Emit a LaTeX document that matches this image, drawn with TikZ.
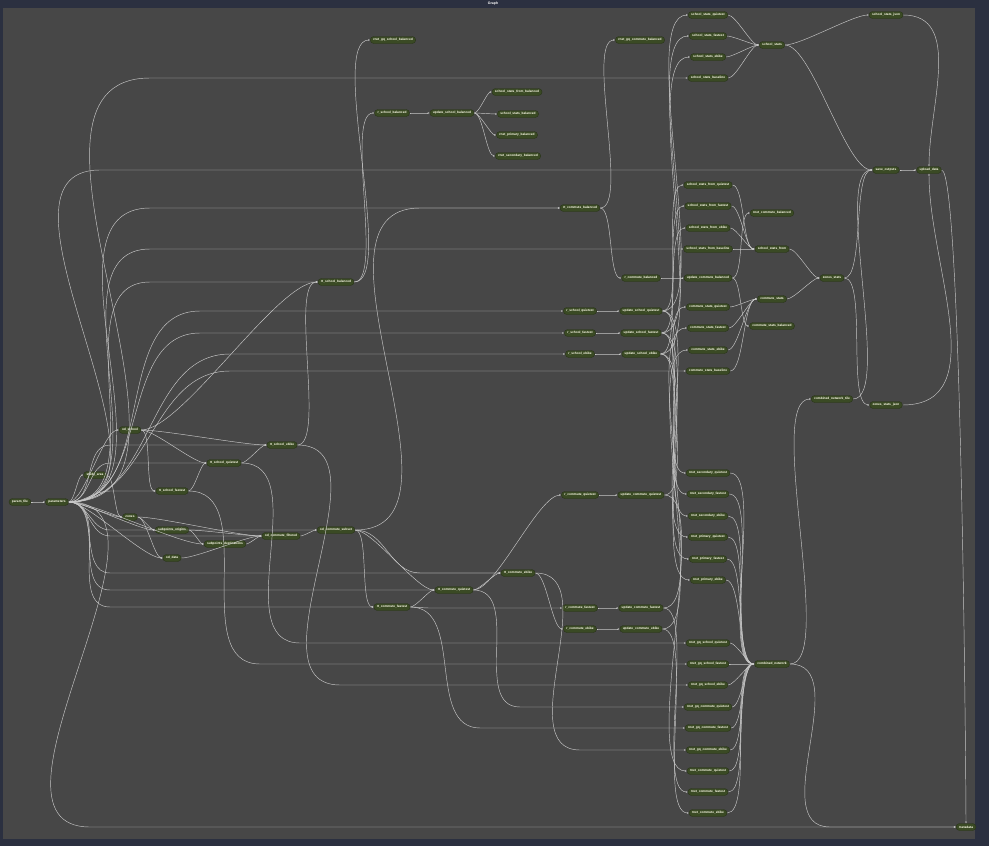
\documentclass[tikz,border=0pt]{standalone}
\usepackage{fontspec}
\setmainfont{Liberation Sans}
\usetikzlibrary{arrows.meta}
\definecolor{bg}{HTML}{474747}
\definecolor{frame}{HTML}{2B3040}
\definecolor{nd}{HTML}{3A4A24}
\definecolor{ed}{HTML}{C8C8C8}
\begin{document}
\begin{tikzpicture}[x=1pt,y=-1pt,
  nn/.style={fill=nd,draw=nd!70!black,line width=0.4pt,rounded corners=3.5pt,inner xsep=3pt,inner ysep=1.6pt,text=white!92!yellow,font=\fontsize{3.2}{3.6}\selectfont\bfseries,minimum height=7pt},
  ee/.style={draw=ed,line width=0.45pt,-{Stealth[length=2pt,width=1.6pt]}}]
\useasboundingbox (0,0) rectangle (989,846);
\fill[frame] (0,0) rectangle (989,846);
\fill[bg] (3,8) rectangle (975,839);
\node[text=white,font=\fontsize{3.5}{4}\selectfont\bfseries] (title) at (493,4) {Graph};
\def\N#1#2#3{\node[nn] (#1) at (#2,#3) {\detokenize{#1}};}
\N{param_file}{20}{502}
\N{parameters}{57}{502}
\N{od_school}{130}{430}
\N{study_area}{95}{475}
\N{zones}{130}{517}
\N{rt_school_fastest}{172}{491}
\N{rt_school_quietest}{224}{463}
\N{rt_school_ebike}{282}{445}
\N{subpoints_origins}{172}{530}
\N{subpoints_destinations}{225}{544}
\N{od_data}{172}{558}
\N{od_commute_filtered}{281}{536}
\N{od_commute_subset}{336}{530}
\N{rt_school_balanced}{336}{282}
\N{rnet_gq_school_balanced}{393}{40}
\N{r_school_balanced}{392}{113}
\N{update_school_balanced}{452}{113}
\N{school_stats_from_balanced}{517}{92}
\N{school_stats_balanced}{518}{114}
\N{rnet_primary_balanced}{517}{135}
\N{rnet_secondary_balanced}{518}{156}
\N{rt_commute_balanced}{580}{208}
\N{rnet_gq_commute_balanced}{640}{40}
\N{r_commute_balanced}{641}{278}
\N{update_commute_balanced}{708}{278}
\N{r_school_quietest}{580}{311}
\N{update_school_quietest}{641}{311}
\N{r_school_fastest}{580}{333}
\N{update_school_fastest}{641}{333}
\N{r_school_ebike}{580}{354}
\N{update_school_ebike}{641}{354}
\N{school_stats_quietest}{708}{15}
\N{school_stats_fastest}{708}{36}
\N{school_stats_ebike}{708}{57}
\N{school_stats_baseline}{708}{78}
\N{school_stats}{772}{45}
\N{school_stats_json}{886}{15}
\N{save_outputs}{886}{170}
\N{upload_data}{929}{170}
\N{school_stats_from_quietest}{708}{185}
\N{school_stats_from_fastest}{708}{206}
\N{school_stats_from_ebike}{708}{228}
\N{school_stats_from_baseline}{708}{249}
\N{rnet_commute_balanced}{772}{213}
\N{school_stats_from}{772}{249}
\N{zones_stats}{832}{278}
\N{commute_stats}{772}{299}
\N{commute_stats_quietest}{708}{307}
\N{commute_stats_fastest}{708}{328}
\N{commute_stats_ebike}{708}{350}
\N{commute_stats_baseline}{708}{371}
\N{commute_stats_balanced}{772}{326}
\N{combined_network_tile}{832}{399}
\N{zones_stats_json}{886}{405}
\N{rt_commute_ebike}{518}{573}
\N{rt_commute_quietest}{454}{590}
\N{rt_commute_fastest}{392}{607}
\N{r_commute_quietest}{580}{495}
\N{update_commute_quietest}{641}{495}
\N{r_commute_fastest}{580}{608}
\N{update_commute_fastest}{641}{608}
\N{r_commute_ebike}{580}{629}
\N{update_commute_ebike}{641}{629}
\N{rnet_secondary_quietest}{708}{473}
\N{rnet_secondary_fastest}{708}{494}
\N{rnet_secondary_ebike}{708}{516}
\N{rnet_primary_quietest}{708}{537}
\N{rnet_primary_fastest}{708}{559}
\N{rnet_primary_ebike}{708}{580}
\N{rnet_gq_school_quietest}{708}{643}
\N{rnet_gq_school_fastest}{708}{664}
\N{rnet_gq_school_ebike}{708}{685}
\N{rnet_gq_commute_quietest}{708}{707}
\N{rnet_gq_commute_fastest}{708}{728}
\N{rnet_gq_commute_ebike}{708}{750}
\N{rnet_commute_quietest}{708}{771}
\N{rnet_commute_fastest}{708}{792}
\N{rnet_commute_ebike}{708}{813}
\N{combined_network}{772}{664}
\N{metadata}{966}{827}
\def\E#1#2{\draw[ee] (#1.east) to[out=0,in=180,looseness=0.45] (#2.west);}
\def\L#1#2#3{\draw[ee] (#1.east) to[out=0,in=180] (#2.west -| #3,0) -- (#2.west);}
\foreach \b/\x in {rt_school_balanced/150,rt_commute_balanced/150,r_school_quietest/200,r_school_fastest/200,
 r_school_ebike/230,school_stats_baseline/150,school_stats_from_baseline/150,commute_stats_baseline/230,
 save_outputs/100,metadata/90,rt_commute_ebike/110,rt_commute_quietest/110,rt_commute_fastest/110,
 od_commute_subset/110,rt_school_ebike/110,rt_school_quietest/110,rt_school_fastest/110,od_commute_filtered/110}
 {\L{parameters}{\b}{\x}}
\foreach \a/\b/\x in {rt_school_quietest/rnet_gq_school_quietest/300,rt_school_fastest/rnet_gq_school_fastest/260,
 rt_school_ebike/rnet_gq_school_ebike/340,rt_commute_quietest/rnet_gq_commute_quietest/520,
 rt_commute_fastest/rnet_gq_commute_fastest/480,rt_commute_ebike/rnet_gq_commute_ebike/580,
 od_commute_subset/rt_commute_balanced/420,od_commute_subset/rt_commute_ebike/420,rt_commute_fastest/r_commute_fastest/430,
 combined_network/metadata/830}
 {\L{\a}{\b}{\x}}
\foreach \a/\b in {param_file/parameters,parameters/od_school,parameters/study_area,parameters/zones,
 parameters/subpoints_origins,parameters/subpoints_destinations,parameters/od_data,
 study_area/zones,od_school/rt_school_fastest,od_school/rt_school_quietest,od_school/rt_school_ebike,od_school/rt_school_balanced,
 zones/subpoints_origins,zones/od_data,zones/od_commute_filtered,subpoints_origins/subpoints_destinations,
 subpoints_origins/od_commute_filtered,subpoints_destinations/od_commute_filtered,od_data/od_commute_filtered,
 od_commute_filtered/od_commute_subset,
 od_commute_subset/rt_commute_fastest,od_commute_subset/rt_commute_quietest,
 rt_school_fastest/rt_school_quietest,rt_school_quietest/rt_school_ebike,rt_school_ebike/rt_school_balanced,
 rt_school_balanced/r_school_balanced,rt_school_balanced/rnet_gq_school_balanced,
 r_school_balanced/update_school_balanced,update_school_balanced/school_stats_from_balanced,update_school_balanced/school_stats_balanced,
 update_school_balanced/rnet_primary_balanced,update_school_balanced/rnet_secondary_balanced,
 rt_commute_fastest/rt_commute_quietest,rt_commute_quietest/rt_commute_ebike,rt_commute_balanced/r_commute_balanced,
 rt_commute_balanced/rnet_gq_commute_balanced,
 rt_commute_quietest/r_commute_quietest,rt_commute_ebike/r_commute_ebike,
 r_school_quietest/update_school_quietest,r_school_fastest/update_school_fastest,r_school_ebike/update_school_ebike,
 r_commute_quietest/update_commute_quietest,r_commute_fastest/update_commute_fastest,r_commute_ebike/update_commute_ebike,
 r_commute_balanced/update_commute_balanced,update_commute_balanced/commute_stats_balanced,update_commute_balanced/rnet_commute_balanced,
 update_school_quietest/school_stats_quietest,update_school_fastest/school_stats_fastest,update_school_ebike/school_stats_ebike,
 update_school_quietest/school_stats_from_quietest,update_school_fastest/school_stats_from_fastest,update_school_ebike/school_stats_from_ebike,
 update_school_quietest/rnet_secondary_quietest,update_school_fastest/rnet_secondary_fastest,update_school_ebike/rnet_secondary_ebike,
 update_school_quietest/rnet_primary_quietest,update_school_fastest/rnet_primary_fastest,update_school_ebike/rnet_primary_ebike,
 update_commute_quietest/commute_stats_quietest,update_commute_fastest/commute_stats_fastest,update_commute_ebike/commute_stats_ebike,
 update_commute_quietest/rnet_commute_quietest,update_commute_fastest/rnet_commute_fastest,update_commute_ebike/rnet_commute_ebike,
 school_stats_quietest/school_stats,school_stats_fastest/school_stats,school_stats_ebike/school_stats,school_stats_baseline/school_stats,
 school_stats/school_stats_json,school_stats/save_outputs,
 school_stats_from_quietest/school_stats_from,school_stats_from_fastest/school_stats_from,school_stats_from_ebike/school_stats_from,
 school_stats_from_baseline/school_stats_from,school_stats_from/zones_stats,
 commute_stats_quietest/commute_stats,commute_stats_fastest/commute_stats,commute_stats_ebike/commute_stats,commute_stats_baseline/commute_stats,
 commute_stats/zones_stats,zones_stats/save_outputs,zones_stats/zones_stats_json,
 rnet_secondary_quietest/combined_network,rnet_secondary_fastest/combined_network,rnet_secondary_ebike/combined_network,
 rnet_primary_quietest/combined_network,rnet_primary_fastest/combined_network,rnet_primary_ebike/combined_network,
 rnet_gq_school_quietest/combined_network,rnet_gq_school_fastest/combined_network,rnet_gq_school_ebike/combined_network,
 rnet_gq_commute_quietest/combined_network,rnet_gq_commute_fastest/combined_network,rnet_gq_commute_ebike/combined_network,
 rnet_commute_quietest/combined_network,rnet_commute_fastest/combined_network,rnet_commute_ebike/combined_network,
 combined_network/combined_network_tile,combined_network_tile/save_outputs,
 save_outputs/upload_data}
 {\E{\a}{\b}}
\draw[ee] (school_stats_json.east) to[out=0,in=90] (upload_data.north);
\draw[ee] (zones_stats_json.east) to[out=0,in=-90] (upload_data.south);
\draw[ee] (upload_data.east) to[out=0,in=90,looseness=0.08] (metadata.north);
\end{tikzpicture}
\end{document}
